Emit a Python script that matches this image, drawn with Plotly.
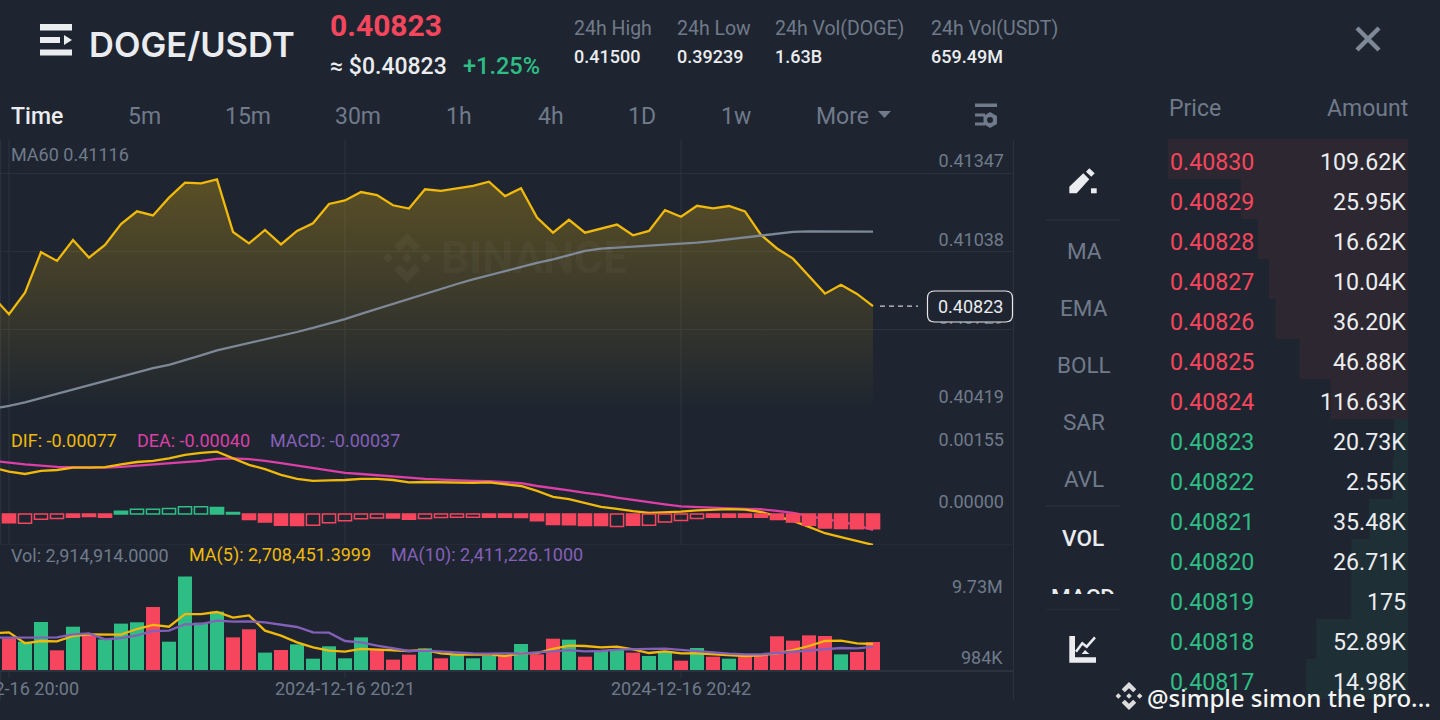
import plotly.graph_objects as go
import numpy as np

W, H = 1440, 720
BG = "#1e2530"
GRID = "#2b323e"
GREY = "#707a8a"
WHITE = "#eaecef"
RED = "#f6465d"
GREEN = "#2ebd85"
YELLOW = "#f0b90b"
PINK = "#dc3fa6"
PURPLE = "#8460b8"
FONT = "Roboto"

# ---------- data ----------
index = list(range(-1, 55))
bar_index = list(range(0, 55))
time_ticks = [0, 21, 42]
time_labels = ["2024-12-16 20:00", "2024-12-16 20:21", "2024-12-16 20:42"]

price = [0.40860, 0.40791, 0.40876, 0.41035, 0.41001, 0.41083, 0.41014, 0.41064, 0.41146, 0.41196,
         0.41180, 0.41250, 0.41309, 0.41306, 0.41322, 0.41115, 0.41070, 0.41123, 0.41066, 0.41119,
         0.41149, 0.41225, 0.41239, 0.41272, 0.41260, 0.41220, 0.41207, 0.41283, 0.41277, 0.41287,
         0.41296, 0.41313, 0.41256, 0.41287, 0.41172, 0.41112, 0.41163, 0.41112, 0.41127, 0.41144,
         0.41102, 0.41119, 0.41201, 0.41175, 0.41218, 0.41208, 0.41217, 0.41196, 0.41103, 0.41050,
         0.41010, 0.40939, 0.40872, 0.40907, 0.40871, 0.40823]
ma60 = [0.40419, 0.40430, 0.40444, 0.40461, 0.40478, 0.40497, 0.40512, 0.40529, 0.40546, 0.40564,
        0.40579, 0.40592, 0.40609, 0.40629, 0.40649, 0.40663, 0.40678, 0.40693, 0.40707, 0.40721,
        0.40737, 0.40754, 0.40772, 0.40792, 0.40812, 0.40831, 0.40851, 0.40871, 0.40890, 0.40910,
        0.40928, 0.40945, 0.40961, 0.40977, 0.40993, 0.41007, 0.41024, 0.41040, 0.41049, 0.41053,
        0.41056, 0.41060, 0.41064, 0.41067, 0.41073, 0.41079, 0.41086, 0.41092, 0.41100, 0.41108,
        0.41115, 0.41117, 0.41117, 0.41117, 0.41117, 0.41116]
dif = [0.00116, 0.00106, 0.00100, 0.00108, 0.00110, 0.00116, 0.00116, 0.00117, 0.00124, 0.00130,
       0.00133, 0.00139, 0.00148, 0.00153, 0.00156, 0.00139, 0.00123, 0.00112, 0.00098, 0.00088,
       0.00083, 0.00084, 0.00085, 0.00088, 0.00088, 0.00085, 0.00079, 0.00080, 0.00079, 0.00078,
       0.00078, 0.00079, 0.00074, 0.00070, 0.00058, 0.00043, 0.00037, 0.00027, 0.00018, 0.00013,
       0.00007, 0.00003, 0.00004, 0.00006, 0.00009, 0.00011, 0.00012, 0.00011, 0.00005, -0.00006,
       -0.00017, -0.00032, -0.00048, -0.00058, -0.00068, -0.00077]
dea = [0.00133, 0.00128, 0.00124, 0.00121, 0.00118, 0.00117, 0.00116, 0.00116, 0.00118, 0.00121,
       0.00123, 0.00127, 0.00130, 0.00133, 0.00138, 0.00139, 0.00137, 0.00133, 0.00127, 0.00121,
       0.00114, 0.00108, 0.00103, 0.00100, 0.00097, 0.00093, 0.00091, 0.00088, 0.00086, 0.00084,
       0.00083, 0.00082, 0.00080, 0.00077, 0.00070, 0.00065, 0.00059, 0.00053, 0.00048, 0.00041,
       0.00035, 0.00029, 0.00024, 0.00019, 0.00017, 0.00015, 0.00014, 0.00013, 0.00012, 0.00008,
       0.00003, -0.00005, -0.00013, -0.00019, -0.00028, -0.00040]
macd = [-0.00022, -0.00023, -0.00013, -0.00011, -0.00008, -0.00006, -0.00008, 0.00007, 0.00012, 0.00012,
        0.00014, 0.00018, 0.00018, 0.00016, 0.00004, -0.00014, -0.00020, -0.00028, -0.00029, -0.00028,
        -0.00022, -0.00017, -0.00012, -0.00010, -0.00010, -0.00013, -0.00011, -0.00009, -0.00008, -0.00008,
        -0.00008, -0.00008, -0.00009, -0.00017, -0.00026, -0.00027, -0.00029, -0.00029, -0.00031, -0.00028,
        -0.00028, -0.00020, -0.00016, -0.00011, -0.00008, -0.00008, -0.00008, -0.00008, -0.00014, -0.00020,
        -0.00028, -0.00035, -0.00036, -0.00037, -0.00037]
macd_hollow = [0, 1, 1, 1, 0, 0, 0, 0, 1, 1,
               1, 1, 1, 0, 0, 0, 0, 0, 0, 1,
               1, 1, 1, 1, 0, 0, 1, 1, 1, 1,
               0, 0, 0, 0, 0, 0, 0, 0, 1, 0,
               1, 1, 1, 1, 0, 0, 0, 0, 0, 0,
               0, 0, 0, 0, 0]
volume = [3.30, 2.95, 5.00, 2.05, 4.51, 3.65, 3.19, 4.83, 4.97, 6.56,
          2.95, 9.73, 4.93, 6.08, 3.40, 4.24, 1.81, 2.08, 2.67, 1.18,
          2.47, 1.22, 3.40, 2.08, 1.08, 1.60, 2.26, 1.22, 1.56, 1.22,
          1.46, 1.46, 2.71, 1.63, 3.26, 3.16, 1.39, 1.98, 2.15, 1.81,
          1.46, 1.98, 0.97, 2.29, 1.39, 1.18, 1.49, 1.56, 3.51, 3.06,
          3.61, 3.54, 1.63, 1.88, 2.915]
volume_up = [0, 1, 1, 0, 1, 0, 1, 1, 1, 0,
             1, 1, 1, 1, 0, 0, 1, 0, 1, 1,
             1, 1, 1, 0, 0, 0, 1, 0, 1, 1,
             1, 0, 1, 0, 0, 1, 0, 1, 1, 0,
             1, 1, 0, 1, 0, 1, 0, 0, 0, 0,
             0, 0, 1, 0, 0]
vol_ma5 = [3.82, 3.92, 2.78, 3.02, 2.99, 3.54, 3.72, 3.72, 3.68, 4.27,
           4.69, 4.51, 5.83, 5.83, 6.04, 5.45, 5.69, 4.10, 3.58, 2.88,
           2.36, 2.01, 1.91, 2.19, 2.12, 2.12, 1.98, 2.08, 1.74, 1.60,
           1.60, 1.63, 1.46, 1.74, 1.77, 2.19, 2.53, 2.50, 2.36, 2.43,
           2.15, 1.77, 1.94, 1.74, 1.74, 1.63, 1.56, 1.46, 1.53, 1.74,
           2.08, 2.50, 3.02, 3.06, 2.78, 2.708]
vol_ma10 = [3.37, 3.37, 3.44, 3.44, 3.40, 3.72, 3.82, 3.19, 3.33, 3.61,
            4.06, 4.10, 4.76, 4.79, 5.14, 5.03, 5.07, 4.97, 4.69, 4.48,
            3.92, 3.89, 3.02, 2.88, 2.53, 2.29, 1.98, 2.01, 1.91, 1.77,
            1.74, 1.70, 1.74, 1.70, 1.84, 1.98, 2.08, 1.94, 1.98, 2.12,
            2.19, 2.19, 2.22, 2.08, 2.01, 1.84, 1.70, 1.63, 1.63, 1.77,
            1.91, 2.08, 2.22, 2.29, 2.26, 2.411]

price_ticks = [0.41347, 0.41038, 0.40729, 0.40419]
macd_ticks = [0.00155, 0.0]
vol_tick_values = [9.73, 0.984]
vol_tick_labels = ["9.73M", "984K"]
vol_tick_shift = [-10, 3.5]

ask_prices = ["0.40830", "0.40829", "0.40828", "0.40827", "0.40826", "0.40825", "0.40824"]
ask_labels = ["109.62K", "25.95K", "16.62K", "10.04K", "36.20K", "46.88K", "116.63K"]
ask_amounts = [109.62, 25.95, 16.62, 10.04, 36.20, 46.88, 116.63]
bid_prices = ["0.40823", "0.40822", "0.40821", "0.40820", "0.40819", "0.40818", "0.40817"]
bid_labels = ["20.73K", "2.55K", "35.48K", "26.71K", "175", "52.89K", "14.98K"]
bid_amounts = [20.73, 2.55, 35.48, 26.71, 0.175, 52.89, 14.98]

periods = ["5m", "15m", "30m", "1h", "4h", "1D", "1w", "More"]
period_x = [144, 248, 358, 459, 551, 642, 736, 842]
indicators = ["MA", "EMA", "BOLL", "SAR", "AVL"]
indicator_y = [251, 308, 365, 422, 479]
stats = [("24h High", "0.41500", 574), ("24h Low", "0.39239", 677),
         ("24h Vol(DOGE)", "1.63B", 775), ("24h Vol(USDT)", "659.49M", 931)]


# ---------- helpers ----------
def px(x):
    return x / W


def py(y):
    return 1 - y / H


annotations = []


def label(text, x, y, size=18, color=GREY, anchor="left", weight=400, family=FONT):
    annotations.append(dict(text=text, x=px(x), y=py(y), xref="paper", yref="paper",
                            xanchor=anchor, yanchor="middle", showarrow=False,
                            borderpad=0, borderwidth=0,
                            font=dict(family=family, size=size, color=color, weight=weight)))


shapes = []


def poly(points, color, layer="above", close=True, width=0):
    d = "M " + " L ".join(f"{px(a):.5f} {py(b):.5f}" for a, b in points) + (" Z" if close else "")
    shapes.append(dict(type="path", path=d, xref="paper", yref="paper", layer=layer,
                       fillcolor=color if close else "rgba(0,0,0,0)",
                       line=dict(width=width, color=color)))


def rect(x0, y0, x1, y1, color, layer="above"):
    shapes.append(dict(type="rect", x0=px(x0), x1=px(x1), y0=py(y0), y1=py(y1), xref="paper",
                       yref="paper", fillcolor=color, line=dict(width=0), layer=layer))


def hline(x0, x1, y, color=GRID, layer="below", width=1.2):
    shapes.append(dict(type="line", x0=px(x0), x1=px(x1), y0=py(y), y1=py(y), xref="paper",
                       yref="paper", line=dict(color=color, width=width), layer=layer))


def vline(x, y0, y1, color=GRID, layer="below", width=1.2):
    shapes.append(dict(type="line", x0=px(x), x1=px(x), y0=py(y0), y1=py(y1), xref="paper",
                       yref="paper", line=dict(color=color, width=width), layer=layer))


def logo(cx, cy, r, color, layer):
    def pts(lst):
        return [(cx + a * r, cy + b * r) for a, b in lst]
    d = 0.2
    for mx, my in [(0, 0), (-0.76, 0), (0.76, 0)]:
        poly(pts([(mx, my - d), (mx + d, my), (mx, my + d), (mx - d, my)]), color, layer)
    for s in (1, -1):
        poly(pts([(0, -1 * s), (0.52, -0.48 * s), (0.3, -0.26 * s), (0, -0.56 * s),
                  (-0.3, -0.26 * s), (-0.52, -0.48 * s)]), color, layer)


# ---------- figure ----------
fig = go.Figure()

# main panel
fig.add_trace(go.Scatter(
    x=index, y=price, mode="lines", line=dict(color=YELLOW, width=2.3), fill="tozeroy",
    fillgradient=dict(type="vertical", start=0.41400, stop=0.40419,
                      colorscale=[[0, "rgba(240,185,11,0.31)"], [1, "rgba(240,185,11,0)"]]),
    xaxis="x", yaxis="y", hoverinfo="skip", showlegend=False))
fig.add_trace(go.Scatter(x=index, y=ma60, mode="lines", line=dict(color="#7d8796", width=2.3),
                         xaxis="x", yaxis="y", hoverinfo="skip", showlegend=False))

# MACD panel: lines sit under the histogram
fig.add_trace(go.Scatter(x=index, y=dea, mode="lines", line=dict(color=PINK, width=2.3),
                         xaxis="x", yaxis="y2", hoverinfo="skip", showlegend=False))
fig.add_trace(go.Scatter(x=index, y=dif, mode="lines", line=dict(color=YELLOW, width=2.3),
                         xaxis="x", yaxis="y2", hoverinfo="skip", showlegend=False))
macd_edge = [GREEN if m > 0 else RED for m in macd]
macd_fill = ["rgba(0,0,0,0)" if h else e for h, e in zip(macd_hollow, macd_edge)]
fig.add_trace(go.Bar(x=bar_index, y=macd, width=0.82,
                     marker=dict(color=macd_fill, line=dict(color=macd_edge, width=1.5)),
                     xaxis="x", yaxis="y4", hoverinfo="skip", showlegend=False))

# volume panel
fig.add_trace(go.Bar(x=bar_index, y=volume, width=0.875,
                     marker=dict(color=[GREEN if u else RED for u in volume_up], line=dict(width=0)),
                     xaxis="x", yaxis="y3", hoverinfo="skip", showlegend=False))
fig.add_trace(go.Scatter(x=index, y=vol_ma5, mode="lines", line=dict(color=YELLOW, width=2.3),
                         xaxis="x", yaxis="y3", hoverinfo="skip", showlegend=False))
fig.add_trace(go.Scatter(x=index, y=vol_ma10, mode="lines", line=dict(color=PURPLE, width=2.3),
                         xaxis="x", yaxis="y3", hoverinfo="skip", showlegend=False))

# order book depth
ask_depth = np.cumsum(ask_amounts[::-1])[::-1]
bid_depth = np.cumsum(bid_amounts)
depth = list(ask_depth) + list(bid_depth)
rows = list(range(14))
fig.add_trace(go.Bar(y=rows, x=depth, orientation="h", width=1,
                     marker=dict(color=["#2c2730"] * 7 + ["#1f2f36"] * 7, line=dict(width=0)),
                     xaxis="x2", yaxis="y5", hoverinfo="skip", showlegend=False))

# ---------- texts ----------
label("DOGE/USDT", 89, 44, 34.5, WHITE, weight=600, family="Inter")
label("0.40823", 330, 26, 30, RED, weight=700)
label("≈ $0.40823", 330, 66, 23, WHITE, weight=500)
label("+1.25%", 463, 66, 23.5, GREEN, weight=500)
for name, value, x in stats:
    label(name, x, 29, 19.5, GREY)
    label(value, x, 57, 18, WHITE, weight=500)

label("Time", 11, 117, 23, WHITE, weight=500)
for name, x in zip(periods, period_x):
    label(name, x, 117, 23, GREY, anchor="center")

label("MA60 0.41116", 11, 154, 18)
label("DIF: -0.00077", 11, 440, 18, YELLOW)
label("DEA: -0.00040", 137, 440, 18, PINK)
label("MACD: -0.00037", 270, 440, 18, PURPLE)
label("Vol: 2,914,914.0000", 11, 555, 18)
label("MA(5): 2,708,451.3999", 189, 555, 18, YELLOW)
label("MA(10): 2,411,226.1000", 391, 555, 18, PURPLE)

for v, t, s in zip(vol_tick_values, vol_tick_labels, vol_tick_shift):
    annotations.append(dict(text=t, x=px(1003), y=v, xref="paper", yref="y3", xanchor="right",
                            yanchor="middle", yshift=s, showarrow=False, borderpad=0, borderwidth=0,
                            font=dict(family=FONT, size=18, color=GREY)))

label("BINANCE", 441, 258, 44, "rgba(255,255,255,0.045)", weight=700)
label("0.40823", 1003, 306, 18, WHITE, anchor="right")

label("Price", 1169, 108, 23, GREY)
label("Amount", 1408, 108, 23, GREY, anchor="right")
for i, (p, a) in enumerate(zip(ask_prices + bid_prices, ask_labels + bid_labels)):
    label(p, 1170, 162 + 40 * i, 23.2, RED if i < 7 else GREEN)
    label(a, 1406, 162 + 40 * i, 23.2, WHITE, anchor="right")

for name, y in zip(indicators, indicator_y):
    label(name, 1084, y, 22.5, GREY, anchor="center")
label("VOL", 1083, 538, 22.5, WHITE, anchor="center", weight=500)
label("MACD", 1083, 597, 22.5, WHITE, anchor="center", weight=500)
# the indicator list scrolls behind this edge: only the top of the last name shows
annotations.append(dict(text="\u00a0", x=px(1083), y=py(601), xref="paper", yref="paper", showarrow=False,
                        xanchor="center", yanchor="middle", borderpad=0, borderwidth=0,
                        width=90, height=15, bgcolor=BG, font=dict(size=10)))

label("@simple simon the pro...", 1147, 697, 24, "#f5f5f5", family="Noto Sans", weight=500)

# ---------- chrome ----------
for i in time_ticks:
    shapes.append(dict(type="line", xref="x", x0=i, x1=i, yref="paper", y0=py(140), y1=py(678),
                       line=dict(color=GRID, width=1.2), layer="below"))
hline(0, 1013, 545)
vline(1013.5, 140, 700)
vline(0.5, 140, 700)
for y in (220, 506, 609):
    hline(1046, 1120, y, "#2e3542")
logo(407, 258, 25, "rgba(255,255,255,0.045)", "below")

# last price marker
shapes.append(dict(type="line", x0=px(880), x1=px(918), xref="paper", y0=price[-1], y1=price[-1], yref="y",
                   line=dict(color="#c8ccd2", width=1.2, dash="5px,4px"), layer="above"))
bx0, bx1, by0, by1, r = 927.5, 1012.5, 291, 322, 7
d = (f"M {px(bx0 + r)} {py(by0)} L {px(bx1 - r)} {py(by0)} Q {px(bx1)} {py(by0)} {px(bx1)} {py(by0 + r)} "
     f"L {px(bx1)} {py(by1 - r)} Q {px(bx1)} {py(by1)} {px(bx1 - r)} {py(by1)} "
     f"L {px(bx0 + r)} {py(by1)} Q {px(bx0)} {py(by1)} {px(bx0)} {py(by1 - r)} "
     f"L {px(bx0)} {py(by0 + r)} Q {px(bx0)} {py(by0)} {px(bx0 + r)} {py(by0)} Z")
shapes.append(dict(type="path", path=d, xref="paper", yref="paper", fillcolor=BG,
                   line=dict(color="#e6e8ea", width=1.2), layer="above"))

# menu icon
rect(40, 24, 72, 30.5, WHITE)
rect(40, 37, 60, 43, WHITE)
poly([(64, 35), (72, 40), (64, 45)], WHITE)
rect(40, 49.5, 72, 55.5, WHITE)
# close icon
poly([(1357, 28), (1379, 50)], "#7f8896", close=False, width=4.5)
poly([(1379, 28), (1357, 50)], "#7f8896", close=False, width=4.5)
# "More" caret
poly([(878, 111), (891, 111), (884.5, 118)], GREY)
# settings icon
rect(975, 103.5, 997, 107, GREY)
rect(975, 113.5, 985, 116.5, GREY)
rect(975, 122.5, 985, 125.5, GREY)
poly([(990, 112), (997, 116), (997, 124), (990, 128), (983.5, 124), (983.5, 116)], GREY)
shapes.append(dict(type="circle", x0=px(987), x1=px(993), y0=py(123), y1=py(117), xref="paper", yref="paper",
                   fillcolor=BG, line=dict(width=0), layer="above"))
# drawing tool icon
poly([(1069.3, 186.7), (1083.3, 173.3), (1089.3, 179.3), (1076.7, 193.3), (1069.3, 193.3)], WHITE)
poly([(1086, 171.7), (1089.3, 168.3), (1094.7, 173.3), (1091.3, 176.7)], WHITE)
rect(1091, 188.3, 1096.7, 193.3, WHITE)
# chart type icon
poly([(1069.3, 636), (1075, 636), (1075, 657.3), (1096, 657.3), (1096, 662.7), (1069.3, 662.7)], WHITE)
poly([(1076, 651.7), (1082.3, 643.3), (1086.7, 646.7), (1095, 637.3)], WHITE, close=False, width=2.5)
poly([(1081.7, 654), (1085, 650), (1089.3, 654)], WHITE)
# creator mark
logo(1129, 696, 14, "#dcdcdc", "above")

# ---------- layout ----------
main_top, main_bot = 140, 408.7
fig.update_layout(
    width=W, height=H, margin=dict(l=0, r=0, t=0, b=0, pad=0, autoexpand=False), autosize=False,
    paper_bgcolor=BG, plot_bgcolor=BG, showlegend=False, hovermode=False,
    font=dict(family=FONT, color=GREY),
    annotations=annotations, shapes=shapes,
    xaxis=dict(domain=[0, 1013 / W], range=[-0.5625, 62.75], anchor="y3", tickmode="array",
               tickvals=time_ticks, ticktext=time_labels, ticks="", showgrid=False, zeroline=False,
               showline=True, linecolor=GRID, linewidth=1.5, ticklabeloverflow="allow",
               ticklabelstandoff=2, tickfont=dict(family=FONT, size=18, color=GREY)),
    yaxis=dict(domain=[py(main_bot), py(main_top)], range=[0.40419, 0.41477], anchor="x", side="right",
               tickmode="array", tickvals=price_ticks, ticktext=[f"{t:.5f}" for t in price_ticks],
               ticklabelposition="inside", ticklabelshift=-12, ticklabelstandoff=6, ticklabeloverflow="allow",
               showgrid=True, gridcolor=GRID, gridwidth=1.2, zeroline=False, showline=False, ticks="",
               tickfont=dict(family=FONT, size=18, color=GREY)),
    yaxis2=dict(domain=[py(547), py(425)], range=[-0.000825, 0.002225], anchor="x", side="right",
                tickmode="array", tickvals=macd_ticks, ticktext=[f"{t:.5f}" for t in macd_ticks],
                ticklabelposition="inside", ticklabelshift=-12, ticklabelstandoff=6, ticklabeloverflow="allow",
                showgrid=False, zeroline=False, showline=False, ticks="",
                tickfont=dict(family=FONT, size=18, color=GREY)),
    yaxis4=dict(domain=[py(547), py(425)], range=[-0.000825, 0.002225], anchor="x", overlaying="y2",
                side="right", visible=False),
    yaxis3=dict(domain=[py(670), py(545)], range=[0, 13.02], anchor="x", side="right", showgrid=False,
                zeroline=False, showline=False, ticks="", showticklabels=False),
    xaxis2=dict(domain=[1168 / W, 1408 / W], range=[361.94, 0], anchor="y5", visible=False),
    yaxis5=dict(domain=[py(699), py(139)], range=[13.5, -0.5], anchor="x2", visible=False),
)

fig.write_html("out.html", config=dict(displayModeBar=False),
               post_script=f"document.body.style.margin='0';document.body.style.background='{BG}';")
